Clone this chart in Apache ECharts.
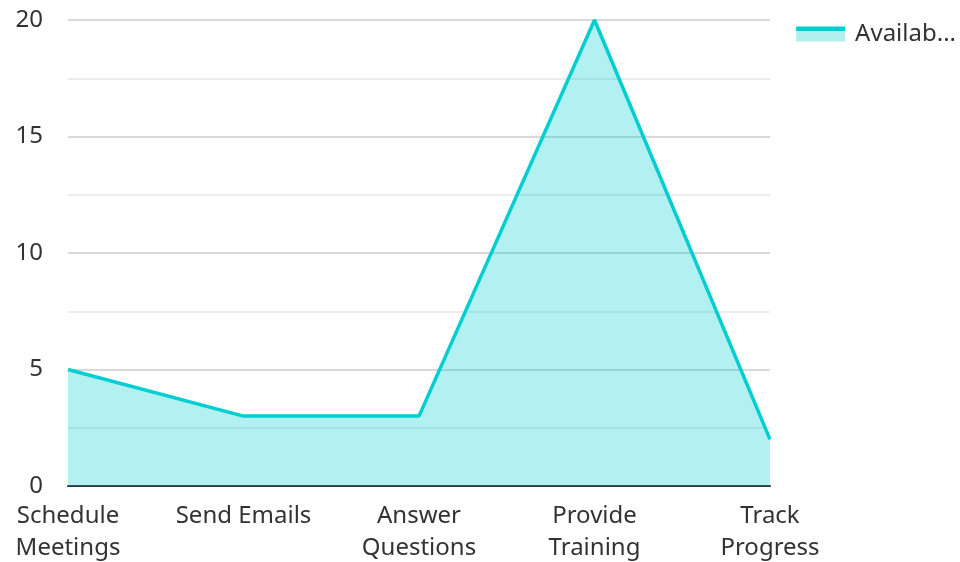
<!DOCTYPE html>
<html><head><meta charset="utf-8">
<script src="https://cdn.jsdelivr.net/npm/echarts@6/dist/echarts.min.js"></script>
<style>html,body{margin:0;padding:0;background:#fff}#c{width:960px;height:562px}</style>
</head><body><div id="c"></div>
<script>
const categories = ["Schedule\nMeetings", "Send Emails", "Answer\nQuestions", "Provide\nTraining", "Track\nProgress"];
const seriesName = "Available Time (hours)";
const values = [5, 3, 3, 20, 2];
const yTicks = [0, 5, 10, 15, 20];

const chart = echarts.init(document.getElementById('c'), null, {renderer: 'canvas'});
const font = '"Noto Sans", "Open Sans", sans-serif';
chart.setOption({
  animation: false,
  textStyle: {fontFamily: font},
  grid: {left: 68, right: 190, top: 20, bottom: 76, outerBoundsMode: 'none', containLabel: false},
  legend: {
    right: -1, top: 17, itemWidth: 49, itemHeight: 15, itemGap: 10,
    icon: 'rect',
    itemStyle: {
      color: {type: 'linear', x: 0, y: 0, x2: 0, y2: 1, colorStops: [
        {offset: 0, color: '#00CED1'}, {offset: 0.28, color: '#00CED1'},
        {offset: 0.28, color: '#b2efef'}, {offset: 1, color: '#b2efef'}]}
    },
    textStyle: {fontSize: 24, color: '#333', fontFamily: font, width: 104, overflow: 'truncate', ellipsis: '...', padding: [0, 0, 0, 5]},
    data: [seriesName]
  },
  xAxis: {
    type: 'category', data: categories, boundaryGap: false,
    axisLine: {lineStyle: {color: '#333', width: 2}},
    axisTick: {show: false},
    axisLabel: {fontSize: 24, color: '#333', lineHeight: 32, margin: 14, interval: 0, fontFamily: font}
  },
  yAxis: {
    type: 'value', min: yTicks[0], max: yTicks[yTicks.length-1], interval: 5,
    axisLabel: {fontSize: 24, color: '#333', margin: 25, fontFamily: font},
    splitLine: {lineStyle: {color: '#ccc', width: 1.5}},
    minorTick: {show: false, splitNumber: 2},
    minorSplitLine: {show: true, lineStyle: {color: '#e6e6e6', width: 1.5}},
    axisLine: {show: false}, axisTick: {show: false}
  },
  series: [{
    name: seriesName, type: 'line', data: values, symbol: 'none',
    lineStyle: {color: '#00CED1', width: 3.5},
    itemStyle: {color: '#00CED1'},
    areaStyle: {color: '#00CED1', opacity: 0.3}
  }]
});
</script></body></html>
